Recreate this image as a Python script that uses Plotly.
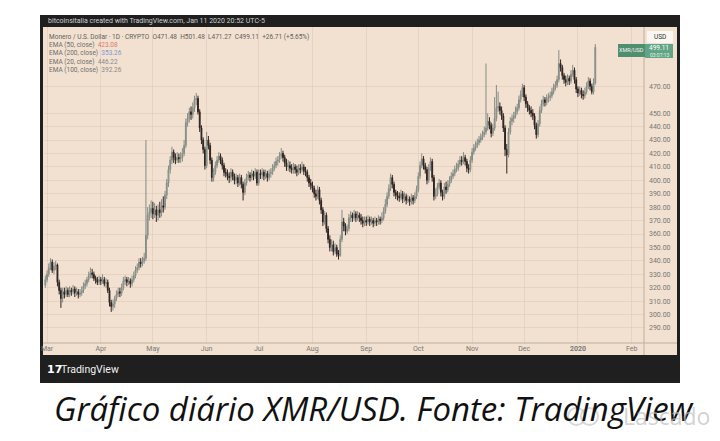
import pandas as pd
import plotly.graph_objects as go

# ---------------- data ----------------
start_date = "2019-02-28"
first_open = 322

closes = [
    326, 330, 335, 339, 333, 336, 337, 324, 318, 312,
    317, 315, 318, 315, 318, 317, 319, 316, 317, 315,
    316, 318, 321, 323, 326, 329, 331, 330, 327, 326,
    324, 326, 325, 326, 323, 324, 318, 309, 306, 308,
    312, 315, 317, 316, 320, 325, 326, 324, 325, 323,
    326, 329, 333, 335, 339, 338, 340, 342, 359, 374,
    376, 379, 375, 378, 374, 378, 376, 381, 380, 389,
    398, 408, 415, 421, 417, 415, 417, 416, 417, 420,
    426, 443, 446, 451, 449, 454, 460, 461, 451, 439,
    430, 423, 411, 430, 426, 415, 402, 406, 411, 415,
    418, 415, 411, 406, 405, 403, 402, 406, 403, 400,
    402, 398, 402, 397, 391, 398, 402, 404, 402, 405,
    403, 406, 398, 405, 404, 406, 403, 405, 402, 405,
    406, 409, 411, 414, 415, 418, 420, 417, 413, 410,
    411, 409, 408, 410, 408, 406, 409, 408, 410, 407,
    406, 402, 398, 396, 394, 390, 388, 393, 385, 378,
    369, 374, 364, 356, 350, 352, 347, 350, 345, 344,
    356, 369, 366, 362, 364, 372, 374, 372, 375, 372,
    374, 372, 370, 368, 370, 369, 371, 369, 370, 368,
    370, 369, 371, 370, 372, 377, 382, 388, 394, 402,
    397, 391, 389, 388, 387, 390, 386, 388, 385, 386,
    384, 387, 385, 388, 393, 403, 411, 416, 411, 408,
    400, 409, 414, 402, 388, 390, 395, 398, 391, 388,
    395, 393, 397, 400, 403, 405, 408, 409, 412, 415,
    414, 417, 414, 409, 408, 415, 421, 424, 426, 428,
    430, 432, 434, 436, 439, 444, 441, 435, 439, 446,
    454, 455, 452, 448, 439, 423, 419, 436, 444, 446,
    448, 451, 454, 460, 464, 469, 462, 457, 454, 452,
    450, 448, 441, 434, 442, 452, 457, 460, 458, 461,
    462, 463, 466, 469, 471, 475, 487, 484, 478, 475,
    473, 476, 474, 479, 482, 475, 468, 465, 467, 464,
    463, 466, 470, 474, 470, 466, 472.4, 499.11,
]

highs = [
    329, 333, 338, 342, 341, 339, 340, 338, 326, 320,
    320, 320, 321, 320, 321, 320, 322, 321, 320, 319,
    319, 321, 324, 326, 328, 332, 335, 334, 332, 329,
    328, 329, 328, 330, 328, 327, 326, 320, 311, 311,
    314, 318, 320, 320, 323, 328, 329, 328, 328, 327,
    329, 332, 336, 338, 342, 342, 343, 346, 430, 380,
    382, 385, 384, 383, 381, 382, 384, 386, 388, 392,
    401, 411, 418, 425, 423, 420, 421, 420, 421, 424,
    430, 446, 450, 454, 455, 458, 463, 465, 463, 453,
    441, 432, 425, 436, 433, 428, 417, 409, 414, 418,
    421, 420, 417, 413, 409, 408, 406, 409, 408, 405,
    405, 404, 405, 404, 399, 401, 405, 407, 406, 408,
    407, 409, 408, 408, 408, 409, 408, 408, 407, 408,
    409, 412, 414, 417, 418, 421, 424, 422, 419, 416,
    415, 414, 412, 413, 412, 411, 412, 412, 414, 412,
    410, 408, 404, 401, 399, 396, 393, 396, 395, 387,
    380, 377, 376, 366, 359, 356, 355, 353, 352, 348,
    359, 378, 372, 368, 367, 375, 377, 376, 378, 377,
    377, 376, 375, 373, 373, 373, 374, 373, 373, 372,
    373, 372, 374, 373, 376, 380, 386, 391, 397, 405,
    404, 399, 393, 392, 391, 393, 392, 391, 390, 389,
    388, 390, 389, 391, 396, 406, 414, 420, 418, 413,
    410, 412, 417, 416, 404, 394, 398, 401, 400, 393,
    398, 399, 400, 403, 406, 408, 411, 413, 415, 418,
    418, 421, 419, 416, 412, 418, 424, 427, 429, 431,
    433, 435, 437, 440, 487, 450, 447, 443, 442, 462,
    471, 466, 458, 455, 450, 441, 427, 439, 447, 449,
    451, 455, 457, 463, 467, 472, 471, 464, 459, 456,
    455, 453, 450, 443, 445, 455, 460, 463, 462, 464,
    465, 466, 469, 472, 474, 478, 497, 490, 486, 480,
    478, 479, 478, 482, 486, 484, 477, 470, 470, 469,
    467, 469, 473, 477, 476, 472, 476, 501.48,
]

lows = [
    320, 324, 328, 333, 331, 330, 333, 321, 315, 305,
    309, 312, 313, 313, 313, 314, 315, 313, 314, 312,
    313, 314, 316, 319, 321, 324, 327, 327, 325, 323,
    322, 322, 322, 323, 321, 320, 316, 306, 302, 303,
    305, 310, 313, 313, 314, 318, 322, 321, 322, 320,
    321, 324, 327, 331, 333, 335, 336, 338, 340, 356,
    370, 372, 371, 372, 369, 370, 372, 373, 376, 378,
    386, 395, 405, 412, 413, 412, 413, 413, 413, 414,
    418, 424, 440, 443, 445, 446, 451, 456, 449, 436,
    427, 420, 408, 409, 423, 412, 399, 399, 404, 409,
    413, 412, 408, 403, 402, 400, 398, 399, 400, 397,
    397, 395, 396, 394, 385, 389, 396, 400, 399, 400,
    400, 401, 396, 396, 401, 401, 400, 401, 399, 400,
    402, 404, 407, 409, 411, 413, 416, 414, 410, 407,
    407, 406, 405, 405, 405, 403, 404, 405, 406, 404,
    403, 399, 395, 393, 391, 387, 385, 386, 382, 375,
    366, 367, 361, 353, 347, 347, 344, 345, 343, 341,
    343, 354, 362, 359, 360, 362, 369, 369, 370, 369,
    370, 369, 367, 365, 366, 366, 367, 366, 367, 365,
    366, 366, 367, 367, 368, 370, 375, 380, 386, 392,
    394, 388, 386, 385, 384, 385, 383, 384, 382, 383,
    381, 382, 382, 383, 386, 391, 401, 409, 408, 405,
    397, 398, 407, 399, 385, 386, 388, 393, 388, 385,
    386, 390, 391, 395, 398, 401, 403, 406, 407, 410,
    411, 412, 411, 406, 405, 406, 413, 419, 422, 424,
    426, 428, 430, 432, 434, 437, 438, 432, 433, 437,
    444, 451, 449, 445, 436, 418, 405, 417, 434, 441,
    443, 446, 449, 452, 458, 462, 459, 454, 451, 449,
    447, 445, 438, 431, 432, 440, 450, 455, 455, 456,
    458, 459, 461, 464, 467, 469, 473, 481, 475, 472,
    470, 471, 471, 472, 477, 472, 465, 462, 463, 461,
    460, 461, 464, 468, 467, 464, 464, 471.27,
]

opens = [first_open] + closes[:-1]
dates = pd.date_range(start_date, periods=len(closes), freq="D")

month_ticks = ["2019-03-01", "2019-04-01", "2019-05-01", "2019-06-01", "2019-07-01",
               "2019-08-01", "2019-09-01", "2019-10-01", "2019-11-01", "2019-12-01",
               "2020-01-01", "2020-02-01"]
month_labels = ["Mar", "Apr", "May", "Jun", "Jul", "Aug", "Sep", "Oct", "Nov", "Dec",
                "<b>2020</b>", "Feb"]
price_ticks = [290, 300, 310, 320, 330, 340, 350, 360, 370, 380, 390, 400,
               410, 420, 430, 440, 450, 470]
price_labels = [f"{v:.2f}" for v in price_ticks]

header_text = "bitcoinsitalia created with TradingView.com, Jan 11 2020 20:52 UTC-5"
legend_title = "Monero / U.S. Dollar · 1D · CRYPTO  O471.48  H501.48  L471.27  C499.11  +26.71 (+5.65%)"
ema_names = ["EMA (50, close)", "EMA (200, close)", "EMA (20, close)", "EMA (100, close)"]
ema_values = ["423.08", "353.26", "446.22", "392.26"]
ema_colors = ["#d9786c", "#7d98d6", "#8a8a8a", "#8a8a8a"]
last_price = "499.11"
countdown = "03:07:13"
caption = "Gráfico diário XMR/USD. Fonte: TradingView"

# ---------------- layout geometry (pixels) ----------------
W, H = 720, 441
PL, PR, PT, PB = 44, 644, 27, 343  # plot area


def px(x):
    return (x - PL) / (PR - PL)


def py(y):
    return (PB - y) / (PB - PT)


fig = go.Figure()
fig.add_trace(go.Candlestick(
    x=dates, open=opens, high=highs, low=lows, close=closes,
    increasing=dict(line=dict(color="#848c86", width=1), fillcolor="#a7ada7"),
    decreasing=dict(line=dict(color="#2e2321", width=1), fillcolor="#2e2321"),
    whiskerwidth=0, hoverinfo="skip", showlegend=False,
))

shapes = []


def rect(x0, y0, x1, y1, color, layer="below", line=None):
    shapes.append(dict(type="rect", xref="paper", yref="paper",
                       x0=px(x0), x1=px(x1), y0=py(y1), y1=py(y0),
                       fillcolor=color, line=line or dict(width=0), layer=layer))


rect(40, 15, 680, 383, "#1f1f1f")          # dark TradingView frame
rect(43, 27, 677, 355, "#f2e1d0")          # peach chart body
# separators
shapes.append(dict(type="line", xref="paper", yref="paper", x0=px(43), x1=px(677),
                   y0=py(343), y1=py(343), line=dict(color="#bfae9c", width=1), layer="above"))
shapes.append(dict(type="line", xref="paper", yref="paper", x0=px(644), x1=px(644),
                   y0=py(27), y1=py(355), line=dict(color="#bfae9c", width=1), layer="above"))
# USD box
rect(647, 31, 673, 43, "#faf6f1", layer="above")
# price tag
rect(618, 44, 645, 57, "#4f8f70", layer="above")
rect(645, 44, 673, 58, "#62a586", layer="above")

annotations = []


def text(x, y, s, size, color, anchor="left", family="Roboto, Liberation Sans, sans-serif", **kw):
    annotations.append(dict(x=px(x), y=py(y), xref="paper", yref="paper", text=s,
                            showarrow=False, xanchor=anchor, yanchor="middle",
                            font=dict(size=size, color=color, family=family), **kw))


text(46, 21, header_text, 7, "#cfcfcf")
text(47, 37, legend_title, 6.5, "#5e5e5e")
rows_y = [45, 53, 62, 70]
for name, val, col, yy in zip(ema_names, ema_values, ema_colors, rows_y):
    text(47, yy, f"{name}  <span style='color:{col}'>{val}</span>", 6.5, "#6e6e6e")
text(660, 37, "USD", 6.5, "#333333", anchor="center")
text(631.5, 50.5, "XMR/USD", 5.5, "#eef6f1", anchor="center")
text(659, 48, last_price, 6.5, "#ffffff", anchor="center")
text(659, 54.5, countdown, 5, "#e6f2ea", anchor="center")
# footer logo
text(45, 369, "<b>17</b>", 11, "#ffffff", family="DejaVu Sans, sans-serif")
text(59, 369, "TradingView", 10.5, "#f2f2f2", family="Roboto, sans-serif")
# caption
text(374, 408, f"<i>{caption}</i>", 33, "#111111", anchor="center",
     family="Open Sans, sans-serif")
# watermark
text(666, 416, "Lascado", 23, "rgba(190,190,190,0.7)", anchor="center",
     family="Open Sans, sans-serif")
shapes.append(dict(type="circle", xref="paper", yref="paper",
                   x0=px(568), x1=px(585), y0=py(425), y1=py(408),
                   line=dict(color="rgba(190,190,190,0.6)", width=2), layer="above"))
shapes.append(dict(type="circle", xref="paper", yref="paper",
                   x0=px(581), x1=px(598), y0=py(425), y1=py(408),
                   line=dict(color="rgba(190,190,190,0.6)", width=2), layer="above"))

fig.update_layout(
    width=W, height=H,
    margin=dict(l=PL, r=W - PR, t=PT, b=H - PB),
    paper_bgcolor="#ffffff", plot_bgcolor="rgba(0,0,0,0)",
    shapes=shapes, annotations=annotations, showlegend=False,
    xaxis=dict(range=["2019-02-27 06:00", "2020-02-08 02:00"], rangeslider=dict(visible=False),
               tickvals=month_ticks, ticktext=month_labels, tickangle=0,
               tickfont=dict(size=7, color="#777777", family="Roboto, sans-serif"),
               showgrid=True, gridcolor="rgba(214,196,178,0.45)", gridwidth=1,
               zeroline=False, showline=False, ticks="", fixedrange=True),
    yaxis=dict(range=[278.8, 514.2], side="right",
               tickvals=price_ticks, ticktext=price_labels,
               tickfont=dict(size=7, color="#777777", family="Roboto, sans-serif"),
               showgrid=True, gridcolor="rgba(214,196,178,0.45)", gridwidth=1,
               zeroline=False, showline=False, ticks="", ticklabelstandoff=4, fixedrange=True),
)

fig.write_html("out.html",
               config={"displayModeBar": False, "staticPlot": True},
               post_script="document.body.style.margin='0';document.body.style.overflow='hidden';")
